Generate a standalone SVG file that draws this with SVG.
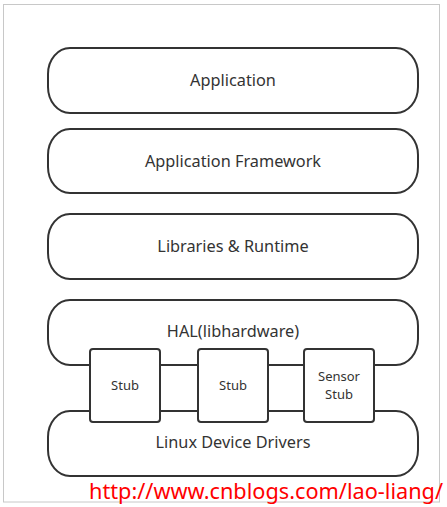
<svg xmlns="http://www.w3.org/2000/svg" width="447" height="507" viewBox="0 0 447 507">
<style>
.layer{fill:#fff;stroke:#333;stroke-width:2}
.stub{fill:#fff;stroke:#333;stroke-width:2}
.t{font-family:"Noto Sans","Open Sans",sans-serif;fill:#333;text-anchor:middle}
.big{font-size:16.3px}
.small{font-size:13px}
.url{font-family:"Noto Sans","Open Sans",sans-serif;fill:#ff0000;font-size:21px}
</style>
<rect x="0" y="0" width="447" height="507" fill="#fff"/>
<rect x="3.5" y="4.5" width="436" height="497.5" fill="#fff" stroke="#c8c8c8" stroke-width="1"/>
<g id="application"><rect class="layer" x="48" y="48" width="370" height="65" rx="22" ry="26"/><text class="t big" x="233" y="86">Application</text></g>
<g id="framework"><rect class="layer" x="48" y="129" width="370" height="64" rx="22" ry="26"/><text class="t big" x="233" y="167">Application Framework</text></g>
<g id="libraries"><rect class="layer" x="48" y="214" width="370" height="65" rx="22" ry="26"/><text class="t big" x="233" y="252">Libraries &amp; Runtime</text></g>
<g id="hal"><rect class="layer" x="48" y="300" width="370" height="65" rx="22" ry="26"/><text class="t big" x="233" y="337">HAL(libhardware)</text></g>
<g id="linux"><rect class="layer" x="48" y="411" width="370" height="65" rx="22" ry="26"/><text class="t big" x="233" y="448">Linux Device Drivers</text></g>
<g id="stub1"><rect class="stub" x="90" y="349" width="70" height="73" rx="3"/><text class="t small" x="125" y="390">Stub</text></g>
<g id="stub2"><rect class="stub" x="198" y="349" width="70" height="73" rx="3"/><text class="t small" x="233" y="390">Stub</text></g>
<g id="sensor-stub"><rect class="stub" x="304" y="349" width="70" height="73" rx="3"/><text class="t small" x="339" y="381">Sensor</text><text class="t small" x="339" y="399">Stub</text></g>
<g id="connectors"></g>
<text class="url" x="89" y="499" textLength="354" lengthAdjust="spacingAndGlyphs">http://www.cnblogs.com/lao-liang/</text>
</svg>
